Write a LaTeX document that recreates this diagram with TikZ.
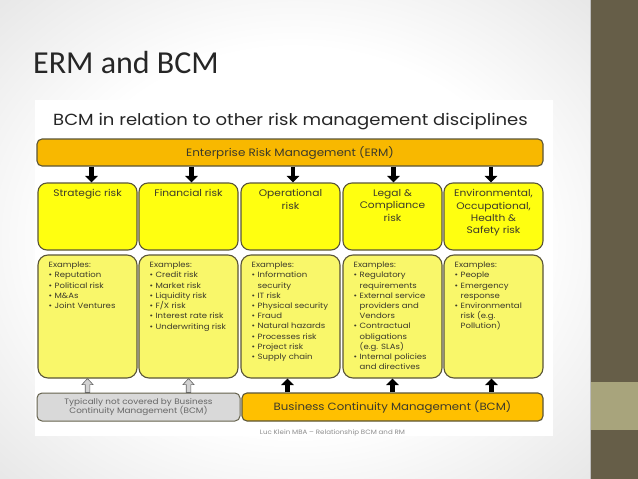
\documentclass[tikz,border=0pt]{standalone}
\usepackage{fontspec}
\setmainfont{Carlito}
\newfontfamily\dg[FakeStretch=1.12]{Poppins}
\usetikzlibrary{arrows.meta,calc}
\definecolor{ergold}{HTML}{F8B800}
\definecolor{bcmgold}{HTML}{FFC000}
\definecolor{ybox}{HTML}{FFFF10}
\definecolor{ylight}{HTML}{F9F76A}
\definecolor{edgec}{HTML}{5A5538}
\definecolor{greyboxc}{HTML}{D9D9D9}
\definecolor{barc}{HTML}{665E48}
\definecolor{bandc}{HTML}{A8A47C}
\definecolor{titlec}{HTML}{262626}
\definecolor{txtc}{HTML}{3C3A2A}
\pgfdeclareradialshading{vig}{\pgfpoint{0bp}{0bp}}{color(0bp)=(white); color(20bp)=(white); color(35bp)=(black!9); color(50bp)=(black!12)}
\newcommand\greyup[2]{%
  \draw[greyarr] ([xshift=-2.3pt]#1 |- #2) -- ([xshift=-2.3pt,yshift=-6pt]#1) -- ([xshift=-5.5pt,yshift=-6pt]#1) -- (#1) -- ([xshift=5.5pt,yshift=-6pt]#1) -- ([xshift=2.3pt,yshift=-6pt]#1) -- ([xshift=2.3pt]#1 |- #2) -- cycle;}
\begin{document}
\begin{tikzpicture}[x=1pt,y=-1pt,
  topbox/.style={draw=edgec, line width=1.1pt, fill=ybox, rounded corners=9pt, minimum width=99pt, minimum height=67pt, inner sep=0pt},
  botbox/.style={draw=edgec, line width=1.1pt, fill=ylight, rounded corners=10pt, minimum width=99pt, minimum height=123pt, inner sep=0pt},
  toptext/.style={font=\dg\fontsize{9.5}{12.3}\selectfont, text=txtc, align=center, inner sep=0pt, anchor=north},
  extext/.style={font=\dg\fontsize{7.6}{10.2}\selectfont, text=txtc, inner sep=0pt, anchor=north west},
  blk/.style={line width=4.6pt, black, -{Triangle[width=12.5pt,length=6.5pt]}},
  greyarr/.style={draw=gray!80!black, fill=gray!35, line width=0.6pt}]
\useasboundingbox (0,0) rectangle (638,479);
% background
\shade[shading=vig] (0,0) rectangle (590,479);
\fill[barc] (590,0) rectangle (638,479);
\fill[bandc] (590,382) rectangle (638,430);
\draw[black!25, line width=0.8pt] (590,0) -- (590,479);
\fill[white] (35,100) rectangle (553,436);
% title
\node[anchor=base west, inner sep=0pt, font=\fontsize{32}{36}\selectfont, text=titlec] (title) at (33,73) {ERM and BCM};
\node[anchor=base west, inner sep=0pt, font=\dg\fontsize{16.1}{18}\selectfont, text=black!85] (head) at (53,125) {BCM in relation to other risk management disciplines};
% ERM
\node[draw=edgec, line width=1.1pt, fill=ergold, rounded corners=5pt, minimum width=506pt, minimum height=27pt, inner sep=0pt, font=\dg\fontsize{10.7}{12}\selectfont, text=txtc] (erm) at (290,152.5) {Enterprise Risk Management (ERM)};
% top boxes
\node[topbox] (t1) at (87.5,216.5) {};
\node[topbox] (t2) at (188.5,216.5) {};
\node[topbox] (t3) at (290.5,216.5) {};
\node[topbox] (t4) at (392.5,216.5) {};
\node[topbox] (t5) at (493.5,216.5) {};
\node[toptext] (tt1) at ([yshift=-7pt]t1.north) {Strategic risk};
\node[toptext] (tt2) at ([yshift=-7pt]t2.north) {Financial risk};
\node[toptext] (tt3) at ([yshift=-7pt]t3.north) {Operational\\risk};
\node[toptext] (tt4) at ([yshift=-7pt]t4.north) {Legal \&\\Compliance\\risk};
\node[toptext] (tt5) at ([yshift=-7pt]t5.north) {Environmental,\\Occupational,\\Health \&\\Safety risk};
% arrows ERM -> top
\draw[blk] ([xshift=4pt]t1.north |- erm.south) -- ([xshift=4pt]t1.north);
\draw[blk] ([xshift=3pt]t2.north |- erm.south) -- ([xshift=3pt]t2.north);
\draw[blk] ([xshift=2.5pt]t3.north |- erm.south) -- ([xshift=2.5pt]t3.north);
\draw[blk] ([xshift=1pt]t4.north |- erm.south) -- ([xshift=1pt]t4.north);
\draw[blk] ([xshift=-2.5pt]t5.north |- erm.south) -- ([xshift=-2.5pt]t5.north);
% bottom boxes
\node[botbox] (b1) at (87.5,316.5) {};
\node[botbox] (b2) at (188.5,316.5) {};
\node[botbox] (b3) at (290.5,316.5) {};
\node[botbox] (b4) at (392.5,316.5) {};
\node[botbox] (b5) at (493.5,316.5) {};
\node[extext] (e1) at ([xshift=11pt,yshift=-6pt]b1.north west) {\begin{tabular}{@{}l@{\hspace{2.5pt}}l@{}}\multicolumn{2}{@{}l}{Examples:}\\
•&Reputation\\ •&Political risk\\ •&M\&As\\ •&Joint Ventures\end{tabular}};
\node[extext] (e2) at ([xshift=11pt,yshift=-6pt]b2.north west) {\begin{tabular}{@{}l@{\hspace{2.5pt}}l@{}}\multicolumn{2}{@{}l}{Examples:}\\
•&Credit risk\\ •&Market risk\\ •&Liquidity risk\\ •&F/X risk\\ •&Interest rate risk\\ •&Underwriting risk\end{tabular}};
\node[extext] (e3) at ([xshift=11pt,yshift=-6pt]b3.north west) {\begin{tabular}{@{}l@{\hspace{2.5pt}}l@{}}\multicolumn{2}{@{}l}{Examples:}\\
•&Information\\ &security\\ •&IT risk\\ •&Physical security\\ •&Fraud\\ •&Natural hazards\\ •&Processes risk\\ •&Project risk\\ •&Supply chain\end{tabular}};
\node[extext] (e4) at ([xshift=11pt,yshift=-6pt]b4.north west) {\begin{tabular}{@{}l@{\hspace{2.5pt}}l@{}}\multicolumn{2}{@{}l}{Examples:}\\
•&Regulatory\\ &requirements\\ •&External service\\ &providers and\\ &Vendors\\ •&Contractual\\ &obligations\\ &(e.g. SLAs)\\ •&Internal policies\\ &and directives\end{tabular}};
\node[extext] (e5) at ([xshift=11pt,yshift=-6pt]b5.north west) {\begin{tabular}{@{}l@{\hspace{2.5pt}}l@{}}\multicolumn{2}{@{}l}{Examples:}\\
•&People\\ •&Emergency\\ &response\\ •&Environmental\\ &risk (e.g.\\ &Pollution)\end{tabular}};
% bottom bars
\node[draw=edgec!70!gray, line width=1pt, fill=greyboxc, rounded corners=5pt, minimum width=203pt, minimum height=28pt, inner sep=0pt, align=center, font=\dg\fontsize{7.9}{9.6}\selectfont, text=black!60] (nobcm) at (138.5,407) {Typically not covered by Business\\Continuity Management (BCM)};
\node[draw=edgec, line width=1.1pt, fill=bcmgold, rounded corners=5pt, minimum width=301pt, minimum height=28pt, inner sep=0pt, font=\dg\fontsize{10.5}{13}\selectfont, text=txtc] (bcm) at (392.5,407) {Business Continuity Management (BCM)};
% arrows up
\greyup{b1.south}{nobcm.north}
\greyup{b2.south}{nobcm.north}
\draw[blk] ([xshift=-3pt]b3.south |- bcm.north) -- ([xshift=-3pt]b3.south);
\draw[blk] (b4.south |- bcm.north) -- (b4.south);
\draw[blk] ([xshift=-2pt]b5.south |- bcm.north) -- ([xshift=-2pt]b5.south);
% footer
\node[inner sep=0pt, font=\dg\fontsize{6.3}{7}\selectfont, text=black!45] (foot) at (332.5,433) {Luc Klein MBA – Relationship BCM and RM};
\end{tikzpicture}
\end{document}
